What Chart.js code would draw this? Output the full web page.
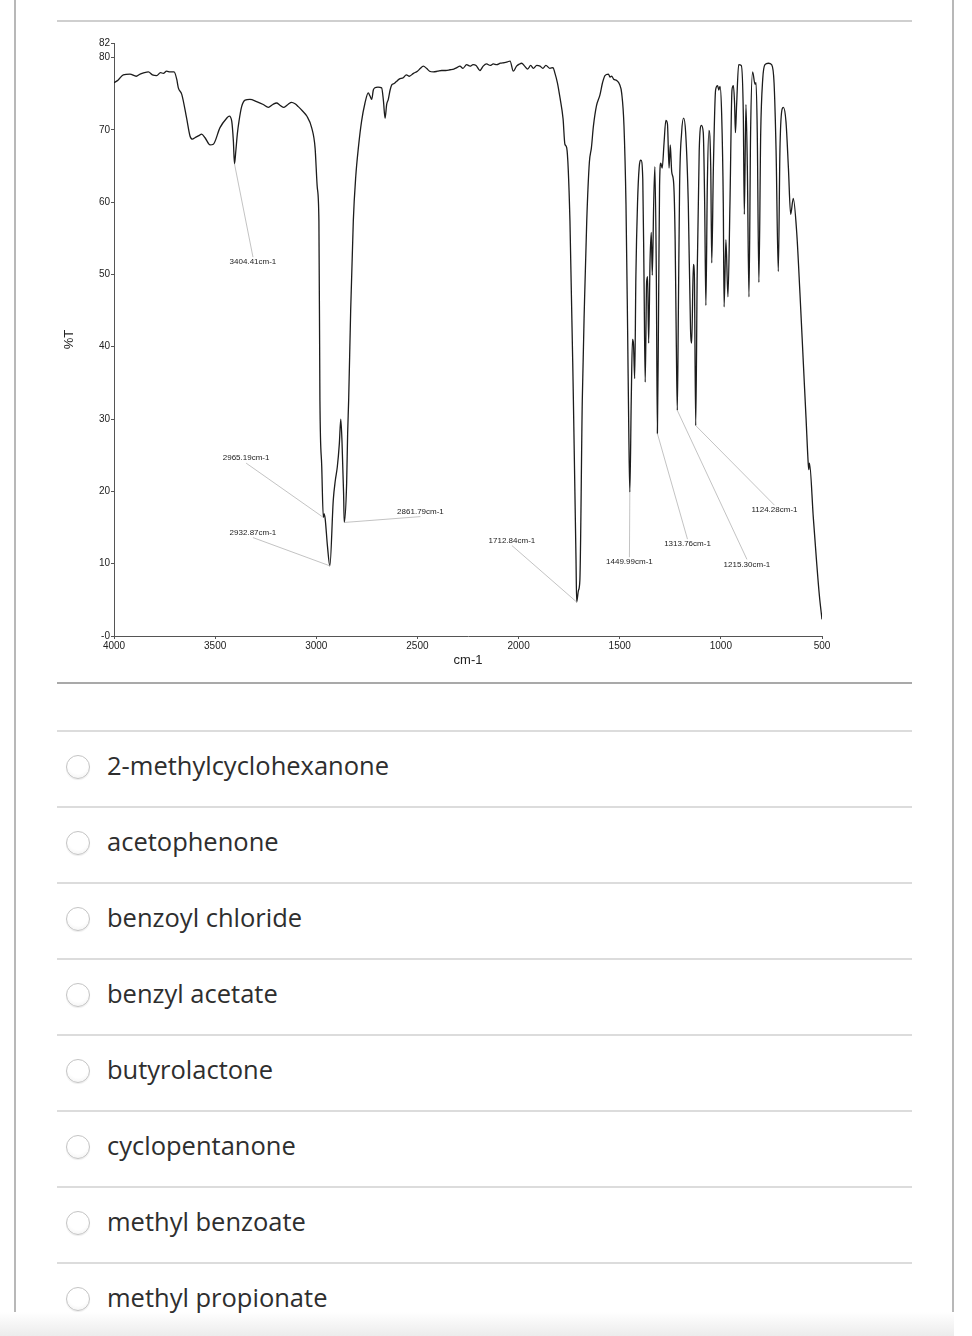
<!DOCTYPE html>
<html>
<head>
<meta charset="utf-8">
<script src="https://cdn.jsdelivr.net/npm/chart.js@4.4.1/dist/chart.umd.min.js"></script>
<style>
  html, body { margin: 0; padding: 0; background: #fff; }
  body { width: 972px; height: 1336px; position: relative; overflow: hidden; font-family: "Open Sans", Lato, sans-serif; }
  .vline { position: absolute; top: 0; width: 2px; height: 1336px; background: #b8b8b8; }
  .hline { position: absolute; left: 57px; width: 855px; height: 2px; background: #dcdcdc; }
  #chartBox { position: absolute; left: 0; top: 0; width: 972px; height: 683px; }
  .opt { position: absolute; left: 0; width: 900px; height: 40px; }
  .radio { position: absolute; left: 66px; top: 8px; width: 22px; height: 22px; border-radius: 50%;
           border: 1px solid #c4c4c4; background: radial-gradient(circle at 50% 35%, #fff 55%, #ececec 100%);
           box-shadow: 0 1px 1px rgba(0,0,0,0.08); }
  .txt { position: absolute; left: 107px; top: -2px; font-size: 25.5px; line-height: 40px; color: #2e2e2e; white-space: nowrap; }
  #bottomShade { position: absolute; left: 0; top: 1312px; width: 954px; height: 24px;
                 background: linear-gradient(#ffffff, #ececec); }
</style>
</head>
<body>
<div class="vline" style="left:14px"></div>
<div class="vline" style="left:952px"></div>
<div class="hline" style="top:20px; background:#cfcfcf"></div>
<div class="hline" style="top:682px; background:#a9a9a9"></div>
<div id="bottomShade"></div>
<div id="chartBox"><canvas id="irChart"></canvas></div>
<div id="options"></div>
<script>
// IR spectrum (wavenumber in cm-1, transmittance in %T)
const wavenumbers = [
  4000, 3979, 3954, 3921, 3890, 3871, 3850, 3830, 3810, 3789, 3770, 3756, 3740, 3723, 3703, 3690,
  3682, 3665, 3641, 3624, 3612, 3600, 3580, 3567, 3550, 3525, 3509, 3476, 3443, 3430, 3418, 3410,
  3404.41, 3398, 3390, 3382, 3369, 3352, 3328, 3295, 3262, 3237, 3215, 3196, 3180, 3163, 3140, 3122,
  3105, 3089, 3068, 3047, 3023, 3006, 2995, 2987, 2982, 2973, 2965.19, 2961, 2956, 2945, 2932.87, 2916,
  2906, 2896, 2886, 2879, 2873, 2865, 2861.79, 2850, 2845, 2840, 2830, 2817, 2805, 2792, 2776, 2760,
  2743, 2735, 2726, 2718, 2710, 2695, 2677, 2668, 2660, 2652, 2644, 2635, 2627, 2615, 2603, 2590,
  2570, 2555, 2540, 2520, 2500, 2485, 2471, 2455, 2440, 2421, 2400, 2380, 2360, 2339, 2320, 2305,
  2290, 2275, 2257, 2240, 2225, 2210, 2191, 2175, 2158, 2140, 2125, 2108, 2090, 2070, 2055, 2042,
  2026, 2010, 1995, 1985, 1970, 1955, 1940, 1927, 1910, 1894, 1880, 1865, 1845, 1830, 1820, 1808,
  1795, 1780, 1771, 1762, 1746, 1729, 1716, 1712.84, 1704, 1697, 1685, 1674, 1663, 1650, 1640, 1630,
  1615, 1598, 1585, 1573, 1556, 1548, 1540, 1530, 1515, 1501, 1490, 1479, 1469, 1461, 1455, 1449.99,
  1443, 1437, 1432, 1426, 1420, 1412, 1404, 1395, 1386, 1380, 1374, 1367, 1362, 1357, 1350, 1344,
  1339, 1332, 1326, 1319, 1313.76, 1308, 1303, 1297, 1290, 1281, 1272, 1264, 1256, 1250, 1243, 1233,
  1226, 1220, 1215.30, 1210, 1204, 1194, 1184, 1174, 1161, 1150, 1144, 1136, 1131, 1124.28, 1117, 1107,
  1096, 1087, 1080, 1074, 1067, 1059, 1050, 1045, 1037, 1026, 1016, 1010, 1004, 996, 988, 984,
  975, 965, 955, 945, 938, 932, 928, 922, 912, 899, 889, 884, 876, 869, 861, 853,
  843, 831, 826, 820, 812, 803, 793, 782, 765, 749, 737, 727, 716, 708, 699, 691,
  678, 666, 655, 642, 625, 609, 592, 579, 568, 565, 562, 543, 526, 513, 500
];
const transmittance = [
  76.5, 76.9, 77.6, 77.7, 77.4, 77.7, 77.9, 78.0, 77.6, 77.5, 77.9, 77.8, 78.1, 78.0, 78.0, 77.0,
  75.8, 74.9, 71.6, 69.1, 68.7, 68.9, 69.2, 69.4, 68.9, 67.9, 68.0, 70.3, 71.6, 71.9, 71.2, 68.5,
  65.3, 67.0, 69.5, 71.2, 73.2, 74.1, 74.2, 73.9, 73.5, 73.1, 73.5, 73.7, 73.4, 73.1, 73.5, 73.8,
  73.6, 73.2, 72.6, 71.9, 70.3, 67.5, 62.0, 57.4, 32.6, 23.4, 16.4, 16.9, 16.2, 12.5, 9.7, 18.8,
  21.5, 23.4, 26.6, 30.0, 27.0, 19.7, 15.7, 21.1, 28.0, 32.6, 45.0, 57.4, 63.5, 67.5, 71.2, 73.6,
  75.1, 74.7, 74.2, 75.5, 75.8, 75.9, 75.8, 74.0, 71.6, 73.5, 74.2, 75.5, 76.2, 76.4, 76.7, 77.0,
  77.2, 77.6, 77.4, 77.8, 78.1, 78.5, 78.8, 78.5, 78.1, 78.0, 78.1, 78.2, 78.2, 78.3, 78.4, 78.6,
  78.8, 78.5, 79.0, 78.8, 79.0, 78.9, 78.2, 78.8, 79.1, 78.9, 79.1, 79.0, 79.2, 79.3, 79.4, 79.5,
  78.1, 78.8, 79.1, 79.2, 78.8, 78.4, 78.9, 78.5, 78.9, 78.8, 78.5, 78.9, 78.5, 78.6, 77.8, 76.5,
  74.4, 71.5, 68.0, 67.5, 57.4, 32.6, 10.5, 4.7, 6.3, 7.7, 32.6, 46.3, 57.4, 65.5, 67.5, 70.5,
  73.3, 74.8, 76.5, 77.5, 77.7, 77.3, 77.4, 77.0, 76.8, 76.3, 75.0, 70.6, 59.7, 42.5, 28.0, 19.9,
  32.6, 41.0, 40.4, 35.6, 49.9, 59.8, 64.7, 65.8, 63.2, 49.9, 35.1, 48.9, 49.7, 40.5, 51.9, 55.8,
  49.9, 59.8, 64.9, 49.9, 28.0, 45.0, 62.2, 65.4, 64.7, 68.1, 71.3, 70.8, 64.7, 67.9, 64.2, 62.5,
  54.8, 40.0, 31.2, 45.0, 62.2, 69.6, 71.6, 69.6, 59.8, 42.5, 40.5, 51.4, 49.9, 29.1, 49.9, 67.1,
  70.6, 69.6, 59.8, 45.7, 62.2, 69.9, 64.7, 51.6, 64.7, 75.5, 76.1, 75.5, 76.0, 72.1, 59.8, 45.5,
  54.8, 46.9, 59.8, 75.5, 76.1, 73.5, 69.6, 73.5, 79.0, 78.9, 72.1, 58.3, 73.5, 64.7, 46.9, 69.6,
  78.0, 76.3, 76.5, 69.6, 48.9, 69.6, 77.0, 79.0, 79.2, 79.0, 76.5, 67.1, 50.4, 67.1, 72.6, 73.1,
  71.1, 64.7, 58.3, 60.5, 55.8, 47.4, 37.6, 30.2, 23.8, 23.0, 23.9, 16.4, 10.0, 5.6, 2.3
];

const xTicks = [4000, 3500, 3000, 2500, 2000, 1500, 1000, 500];
const yTicks = [82, 80, 70, 60, 50, 40, 30, 20, 10, 0];

// labelled peaks and where their captions sit (in axis units)
const peakWavenumbers = [3404.41, 2965.19, 2932.87, 2861.79, 1712.84, 1449.99, 1313.76, 1215.30, 1124.28];
const labelAt = [
  [3313, 51.7], [3347, 24.6], [3313, 14.3], [2485, 17.2], [2033, 13.2],
  [1452, 10.2], [1165, 12.7], [871, 9.9], [735, 17.4]
];

const answers = [
  '2-methylcyclohexanone', 'acetophenone', 'benzoyl chloride', 'benzyl acetate',
  'butyrolactone', 'cyclopentanone', 'methyl benzoate', 'methyl propionate'
];

// answer list under the chart
const optBox = document.getElementById('options');
answers.forEach((name, i) => {
  const top = 731 + i * 76;
  const line = document.createElement('div');
  line.className = 'hline';
  line.style.top = (top - 1) + 'px';
  optBox.appendChild(line);
  const row = document.createElement('div');
  row.className = 'opt';
  row.style.top = (top + 16) + 'px';
  row.innerHTML = '<div class="radio"></div><div class="txt">' + name + '</div>';
  optBox.appendChild(row);
});

const axisFont = { family: '"Liberation Sans", Arial, sans-serif', size: 10 };

const peakLabels = {
  id: 'peakLabels',
  afterDatasetsDraw(chart) {
    const { ctx, scales: { x, y } } = chart;
    ctx.save();
    ctx.font = '8px "Liberation Sans", Arial, sans-serif';
    ctx.textAlign = 'center';
    ctx.textBaseline = 'middle';
    peakWavenumbers.forEach((wn, i) => {
      const t = transmittance[wavenumbers.indexOf(wn)];
      const px = x.getPixelForValue(wn);
      const py = y.getPixelForValue(t);
      const lx = x.getPixelForValue(labelAt[i][0]);
      const ly = y.getPixelForValue(labelAt[i][1]);
      const ey = py < ly ? ly - 5 : ly + 5;
      ctx.strokeStyle = '#b4b4b4';
      ctx.lineWidth = 0.8;
      ctx.beginPath();
      ctx.moveTo(px, py);
      ctx.lineTo(lx, ey);
      ctx.stroke();
      ctx.fillStyle = '#222';
      ctx.fillText(wn.toFixed(2) + 'cm-1', lx, ly);
    });
    ctx.restore();
  }
};

new Chart(document.getElementById('irChart'), {
  type: 'line',
  data: {
    datasets: [{
      data: wavenumbers.map((w, i) => ({ x: w, y: transmittance[i] })),
      borderColor: '#1c1c1c',
      borderWidth: 1.3,
      pointRadius: 0,
      cubicInterpolationMode: 'monotone',
      fill: false
    }]
  },
  options: {
    responsive: true,
    maintainAspectRatio: false,
    animation: false,
    layout: { padding: { top: 43, right: 150, bottom: 0, left: 0 } },
    plugins: { legend: { display: false }, tooltip: { enabled: false } },
    scales: {
      x: {
        type: 'linear',
        reverse: true,
        min: 500,
        max: 4000,
        afterBuildTicks: (axis) => { axis.ticks = xTicks.map(v => ({ value: v })); },
        afterFit: (axis) => { axis.height = 47; },
        ticks: { font: axisFont, color: '#222', maxRotation: 0, autoSkip: false, padding: 1,
                 callback: (v) => String(v) },
        grid: { drawOnChartArea: false, drawTicks: true, tickLength: 3, color: '#555' },
        border: { color: '#555', width: 1 },
        title: { display: true, text: 'cm-1', color: '#222',
                 font: { family: '"Liberation Sans", Arial, sans-serif', size: 13 },
                 padding: { top: 0, bottom: 15 } }
      },
      y: {
        min: 0,
        max: 82,
        afterBuildTicks: (axis) => { axis.ticks = yTicks.map(v => ({ value: v })); },
        afterFit: (axis) => { axis.width = 114; },
        ticks: { font: axisFont, color: '#222', autoSkip: false, padding: 1,
                 callback: (v) => v === 0 ? '-0' : String(v) },
        grid: { drawOnChartArea: false, drawTicks: true, tickLength: 3, color: '#555' },
        border: { color: '#555', width: 1 },
        title: { display: true, text: '%T', color: '#222',
                 font: { family: '"Liberation Sans", Arial, sans-serif', size: 13 },
                 padding: { top: 62, bottom: 0 } }
      }
    }
  },
  plugins: [peakLabels]
});
</script>
</body>
</html>
